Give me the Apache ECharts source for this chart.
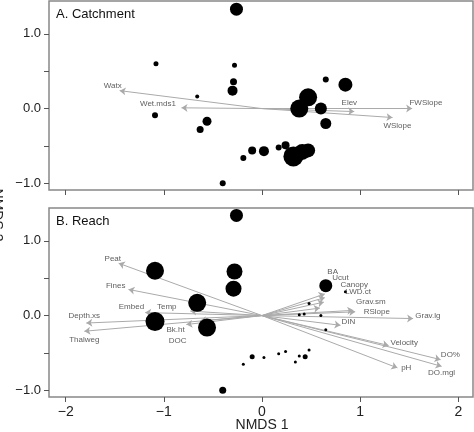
<!DOCTYPE html><html><head><meta charset="utf-8"><script src="https://cdn.jsdelivr.net/npm/echarts@6/dist/echarts.min.js"></script></head><body style="margin:0"><div id="c" style="width:474px;height:432px"></div><script>
const ptsA=[[-0.26,1.33,13],[-1.08,0.60,5],[-0.28,0.58,5],[-0.29,0.36,7],[-0.30,0.24,10],[-0.66,0.16,4],[-1.09,-0.09,6],[-0.56,-0.17,9],[-0.63,-0.28,7],[0.65,0.39,6],[0.85,0.32,14],[0.47,0.15,18],[0.38,0.0,18],[0.60,0.0,12],[0.65,-0.20,11],[-0.19,-0.66,6],[-0.10,-0.56,8],[0.02,-0.57,10],[0.17,-0.52,6],[0.24,-0.49,8],[0.32,-0.64,20],[0.41,-0.58,16],[0.47,-0.56,14],[-0.40,-1.00,6]];
const arrA=[["Watx",-1.45,0.24,-1.52,0.30],["Wet.mds1",-0.82,0.01,-1.06,0.06],["Elev",0.94,-0.04,0.89,0.08],["FWSlope",1.53,0,1.67,0.08],["WSlope",1.33,-0.12,1.38,-0.23]];
const ptsB=[[-0.26,1.34,13],[-1.09,0.60,18],[-0.28,0.59,16],[-0.29,0.36,16],[-0.66,0.17,18],[-1.09,-0.08,19],[-0.56,-0.16,18],[0.65,0.40,13],[0.85,0.32,3],[0.48,0.16,3],[0.38,0.01,3],[0.43,0.02,3],[0.60,0.0,3],[0.65,-0.19,3],[-0.10,-0.55,5],[-0.19,-0.65,3],[0.02,-0.56,3],[0.17,-0.51,3],[0.24,-0.48,3],[0.34,-0.62,3],[0.38,-0.54,3],[0.44,-0.55,5],[0.48,-0.46,3],[-0.40,-1.00,7]];
const arrB=[["Peat",-1.46,0.70,-1.52,0.76],["Fines",-1.36,0.35,-1.49,0.40],["Embed",-1.19,0.04,-1.33,0.12],["Temp",-0.73,0.06,-0.97,0.12],["Depth.xs",-1.79,-0.10,-1.81,0.0],["Thalweg",-1.81,-0.21,-1.81,-0.33],["Bk.ht",-0.77,-0.12,-0.88,-0.19],["DOC",-0.63,-0.07,-0.86,-0.34],["BA",0.64,0.29,0.72,0.58],["Ucut",0.63,0.18,0.80,0.50],["Canopy",0.64,0.24,0.94,0.41],["LWD.ct",0.59,0.10,0.98,0.32],["Grav.sm",0.93,0.07,1.11,0.18],["RSlope",0.95,0.05,1.17,0.05],["Grav.lg",1.54,-0.04,1.69,0.0],["DIN",0.80,-0.13,0.88,-0.09],["Velocity",1.29,-0.40,1.45,-0.37],["DO%",1.82,-0.59,1.92,-0.52],["DO.mgl",1.83,-0.68,1.83,-0.77],["pH",1.38,-0.70,1.47,-0.70]];
const xTicks=[-2,-1,0,1,2];const yTicks=[-1,-0.5,0,0.5,1];
const ch=echarts.init(document.getElementById('c'));
function xa(i,lab){return{gridIndex:i,type:'value',min:-2.17,max:2.15,splitLine:{show:false},axisLine:{show:false,onZero:false},
 axisTick:{show:true,length:5,lineStyle:{color:'#555'},customValues:xTicks},
 axisLabel:{show:lab,customValues:xTicks,formatter:v=>String(v).replace('-','\u2212'),color:'#222',fontSize:14,fontFamily:'Liberation Sans',margin:8}};}
function ya(i){return{gridIndex:i,type:'value',min:-1.09,max:1.44,splitLine:{show:false},axisLine:{show:false,onZero:false},
 axisTick:{show:true,length:5,lineStyle:{color:'#555'},customValues:yTicks},
 axisLabel:{customValues:[-1,0,1],formatter:v=>v.toFixed(1).replace('-','\u2212'),color:'#222',fontSize:13,fontFamily:'Liberation Sans'}};}
const series=[];
[[ptsA,arrA],[ptsB,arrB]].forEach(([p,a],i)=>{
 series.push({type:'lines',coordinateSystem:'cartesian2d',xAxisIndex:i,yAxisIndex:i,symbol:['none','arrow'],symbolSize:6,
  lineStyle:{color:'#aaa',width:1,opacity:1},data:a.map(r=>({coords:[[0,0],[r[1],r[2]]]}))});
 series.push({type:'scatter',xAxisIndex:i,yAxisIndex:i,symbolSize:1,itemStyle:{color:'rgba(0,0,0,0)'},z:5,
  label:{show:true,position:'inside',formatter:q=>q.data[2],fontSize:8,color:'#333',fontFamily:'Liberation Sans'},
  labelLayout:{hideOverlap:false},data:a.map(r=>[r[3],r[4],r[0]])});
 series.push({type:'scatter',xAxisIndex:i,yAxisIndex:i,itemStyle:{color:'#000',opacity:1},symbolSize:d=>d[2],data:p});
});
ch.setOption({animation:false,
 grid:[{left:49,top:1,right:1,height:189,show:true,borderColor:'#888',borderWidth:1.5},{left:49,top:208,right:1,height:189,show:true,borderColor:'#888',borderWidth:1.5}],
 xAxis:[xa(0,false),xa(1,true)],yAxis:[ya(0),ya(1)],series,
 graphic:[{type:'text',left:56,top:8,style:{text:'A. Catchment',fontSize:13,fill:'#111',fontFamily:'Liberation Sans'}},
 {type:'text',left:56,top:215,style:{text:'B. Reach',fontSize:13,fill:'#111',fontFamily:'Liberation Sans'}},
 {type:'text',x:4,y:215,rotation:-Math.PI/2,style:{text:'NMDS 2',fontSize:14,fill:'#222',align:'center',verticalAlign:'top',fontFamily:'Liberation Sans'}},
 {type:'text',x:262,y:418,style:{text:'NMDS 1',fontSize:14,fill:'#222',align:'center',verticalAlign:'top',fontFamily:'Liberation Sans'}}]});
</script></body></html>
